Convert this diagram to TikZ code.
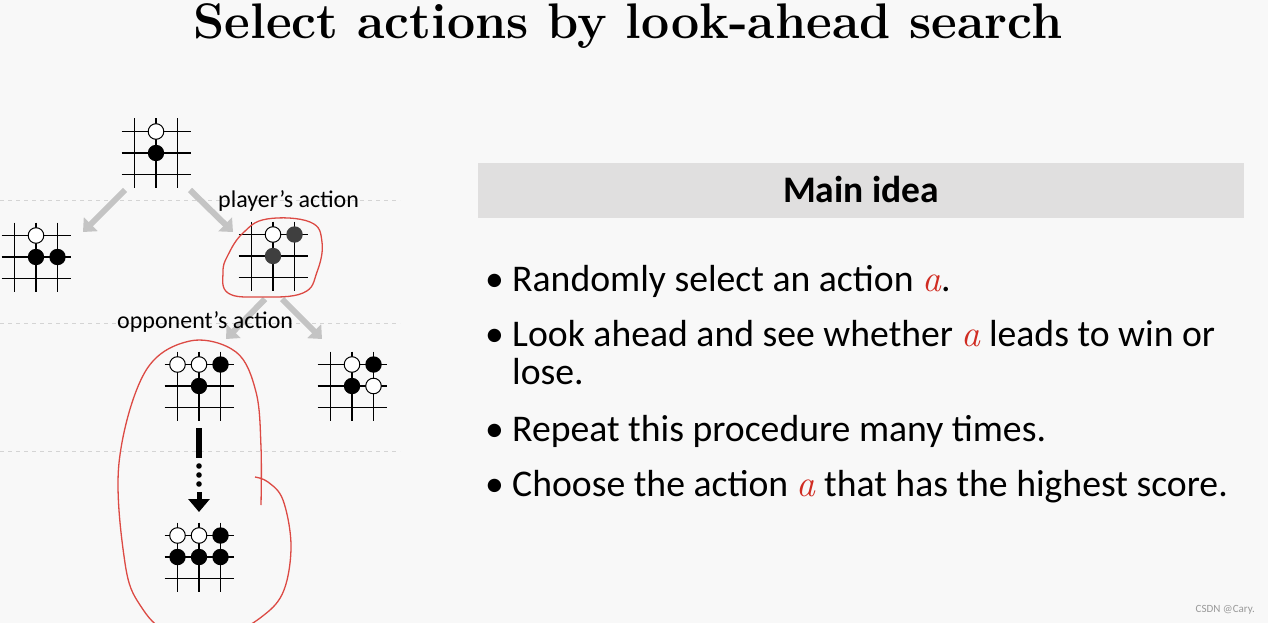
\documentclass[tikz,border=0pt]{standalone}
\usepackage{fontspec}
\setsansfont{Carlito}
\usetikzlibrary{arrows.meta,calc}
\definecolor{bg}{HTML}{F8F8F8}
\definecolor{boxgray}{HTML}{E0DFDF}
\definecolor{arrowgray}{HTML}{C4C4C4}
\definecolor{dashgray}{HTML}{D4D4D4}
\definecolor{penred}{HTML}{DC4A44}
\definecolor{ared}{HTML}{D02C22}
\definecolor{stonegray}{HTML}{3F3F3F}
\newcommand\drawboard[1]{%
  \begin{scope}[shift={(#1.center)}]
    \foreach \k in {-21.5,0,21.5}{%
      \draw[gridline] (-34.5,\k) -- (34.5,\k);
      \draw[gridline] (\k,-34.5) -- (\k,34.5);}
  \end{scope}}
\newcommand\wst[3]{\draw[wstone] ($(#1.center)+({#2*21.5},{#3*21.5})$) circle[radius=7.8pt];}
\newcommand\bst[3]{\fill[bstone] ($(#1.center)+({#2*21.5},{#3*21.5})$) circle[radius=8.2pt];}
\newcommand\gst[3]{\fill[gstone] ($(#1.center)+({#2*21.5},{#3*21.5})$) circle[radius=8.2pt];}
\newcommand\ra{\textcolor{ared}{$\mathit{a}$}}
\begin{document}
\begin{tikzpicture}[x=1pt,y=-1pt,
  bnode/.style={minimum size=70pt,inner sep=0pt},
  gridline/.style={line width=1.4pt,black},
  wstone/.style={fill=white,draw=black,line width=1pt},
  bstone/.style={black},
  gstone/.style={stonegray},
  grayarrow/.style={arrowgray,line width=6pt,-{Triangle[length=11pt,width=19pt]}},
  sepline/.style={dashgray,dashed,dash pattern=on 4pt off 4pt,line width=0.8pt},
  redpen/.style={penred,line width=1.3pt},
  label/.style={font=\sffamily\fontsize{24}{28}\selectfont,anchor=base west,inner sep=0pt},
  bullet/.style={font=\sffamily\fontsize{37.7}{44}\selectfont,anchor=base west,inner sep=0pt}]
\useasboundingbox (0,0) rectangle (1268,623);
\fill[bg] (0,0) rectangle (1268,623);

% title
\node[font=\fontsize{50}{58}\selectfont\bfseries,anchor=base,inner sep=0pt] (title) at (628,39) {Select actions by look-ahead search};

% separator lines
\draw[sepline] (0,200) -- (400,200);
\draw[sepline] (0,323) -- (400,323);
\draw[sepline] (0,451) -- (400,451);

% boards
\node[bnode] (b1) at (156,153) {};
\node[bnode] (b2) at (36,257) {};
\node[bnode] (b3) at (273,256) {};
\node[bnode] (b4) at (199,386) {};
\node[bnode] (b5) at (352,386) {};
\node[bnode] (b6) at (199,557) {};
\drawboard{b1}\drawboard{b2}\drawboard{b3}\drawboard{b4}\drawboard{b5}\drawboard{b6}
\wst{b1}{0}{-1}\bst{b1}{0}{0}
\wst{b2}{0}{-1}\bst{b2}{0}{0}\bst{b2}{1}{0}
\wst{b3}{0}{-1}\gst{b3}{1}{-1}\gst{b3}{0}{0}
\wst{b4}{-1}{-1}\wst{b4}{0}{-1}\bst{b4}{1}{-1}\bst{b4}{0}{0}
\wst{b5}{0}{-1}\bst{b5}{1}{-1}\bst{b5}{0}{0}\wst{b5}{1}{0}
\wst{b6}{-1}{-1}\wst{b6}{0}{-1}\bst{b6}{1}{-1}\bst{b6}{-1}{0}\bst{b6}{0}{0}\bst{b6}{1}{0}

% gray arrows
\coordinate (a1s) at (125,190); \coordinate (a1e) at (83,232);
\coordinate (a2s) at (190,190); \coordinate (a2e) at (233,232);
\coordinate (a3s) at (265,299); \coordinate (a3e) at (226,339);
\coordinate (a4s) at (282,299); \coordinate (a4e) at (322,339);
\draw[grayarrow] (a1s) -- (a1e);
\draw[grayarrow] (a2s) -- (a2e);
\draw[grayarrow] (a3s) -- (a3e);
\draw[grayarrow] (a4s) -- (a4e);

% labels
\node[label] (lplayer) at (218,207) {player’s action};
\node[label] (lopp) at (117,328) {opponent’s action};

% dashed rollout arrow
\coordinate (r1) at (199,428); \coordinate (r2) at (199,458);
\coordinate (r3) at (199,492); \coordinate (r4) at (199,512);
\draw[line width=6.5pt] (r1) -- (r2);
\foreach \yy in {466,475,484} \fill (199,\yy) circle[radius=2.8pt];
\draw[line width=5pt,-{Triangle[length=13pt,width=21pt]}] (r3) -- (r4);

% red hand-drawn loops
\draw[redpen] plot[smooth cycle,tension=0.7] coordinates {(243,233)(267,219)(310,222)(322,242)(317,272)(303,293)(260,297)(228,293)(223,272)(228,255)};
\begin{scope}
\clip (0,0) rectangle (1268,623);
\draw[redpen] plot[smooth,tension=0.6] coordinates {(261,505)(261,447)(256,392)(236,352)(190,341)(145,372)(119,463)(125,563)(140,605)(170,632)(230,632)(264,615)(284,590)(291,545)(283,500)(268,482)(255,477)};
\end{scope}

% right panel
\fill[boxgray] (478,163) rectangle (1244,218);
\node[font=\sffamily\bfseries\fontsize{37.5}{44}\selectfont,anchor=base,inner sep=0pt] (main) at (861,202) {Main idea};
\node[bullet] (i1) at (512,291) {Randomly select an action \ra.};
\node[bullet] (i2) at (512,346) {Look ahead and see whether \ra{} leads to win or};
\node[bullet] (i2b) at (512,384) {lose.};
\node[bullet] (i3) at (512,441) {Repeat this procedure many times.};
\node[bullet] (i4) at (512,496) {Choose the action \ra{} that has the highest score.};
\foreach \n in {i1,i2,i3,i4} \node[bullet] at ([xshift=-27pt]\n.base west) {•};

% watermark
\node[font=\sffamily\fontsize{11}{13}\selectfont,text=gray!80,anchor=base east,inner sep=0pt] (wm) at (1255,612) {CSDN @Cary.};
\end{tikzpicture}
\end{document}
